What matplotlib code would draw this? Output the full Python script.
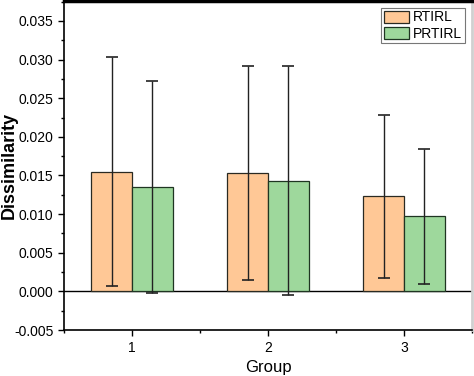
import matplotlib
matplotlib.use("Agg")
import matplotlib.pyplot as plt
import numpy as np
from matplotlib.ticker import MultipleLocator

plt.rcParams["font.family"] = ["Liberation Sans", "DejaVu Sans"]

groups = [1, 2, 3]
series = ["RTIRL", "PRTIRL"]
rtirl_mean = [0.0155, 0.0153, 0.0123]
rtirl_err = [0.0148, 0.0138, 0.0105]
prtirl_mean = [0.0135, 0.0143, 0.0097]
prtirl_err = [0.0137, 0.0148, 0.0087]
colors = ["#FFC896", "#9ED89C"]

fig = plt.figure(figsize=(4.74, 3.76), dpi=100)
ax = fig.add_axes([0.135, 0.122, 0.861, 0.876])

x = np.array(groups, dtype=float)
w = 0.3
ekw = dict(ecolor="#222222", elinewidth=1.0, capsize=4, capthick=1.2)
ax.bar(x - w / 2, rtirl_mean, w, yerr=rtirl_err, color=colors[0],
       edgecolor="#2a2a22", linewidth=0.9, label=series[0], error_kw=ekw)
ax.bar(x + w / 2, prtirl_mean, w, yerr=prtirl_err, color=colors[1],
       edgecolor="#1f3522", linewidth=0.9, label=series[1], error_kw=ekw)
ax.axhline(0, color="black", linewidth=1.0, zorder=0.5)

ax.set_xlim(0.5, 3.5)
ax.set_ylim(-0.005, 0.0376)
ax.set_xticks(groups)
ax.xaxis.set_minor_locator(MultipleLocator(0.5))
ax.yaxis.set_major_locator(MultipleLocator(0.005))
ax.yaxis.set_minor_locator(MultipleLocator(0.0025))
ax.yaxis.set_major_formatter(matplotlib.ticker.FormatStrFormatter("%.3f"))
ax.tick_params(which="major", direction="out", length=4, width=1, labelsize=10)
ax.tick_params(which="minor", direction="out", length=2, width=1)

ax.set_xlabel("Group", fontsize=12)
ax.xaxis.set_label_coords(0.5, -0.092)
ax.set_ylabel("Dissimilarity", fontsize=13, fontweight="bold")
ax.yaxis.set_label_coords(-0.113, 0.5)

for s in ["left", "bottom"]:
    ax.spines[s].set_linewidth(1.2)
ax.spines["top"].set_linewidth(2.5)
ax.spines["right"].set_color("#d0d0d0")
ax.spines["right"].set_linewidth(2)

leg = ax.legend(loc="upper right", fontsize=10, frameon=True, fancybox=False,
                edgecolor="#555555", handlelength=1.8, handleheight=1.0,
                borderpad=0.2, labelspacing=0.15, handletextpad=0.3,
                borderaxespad=0.5)
leg.get_frame().set_linewidth(0.8)

fig.savefig("out.png", dpi=100)
